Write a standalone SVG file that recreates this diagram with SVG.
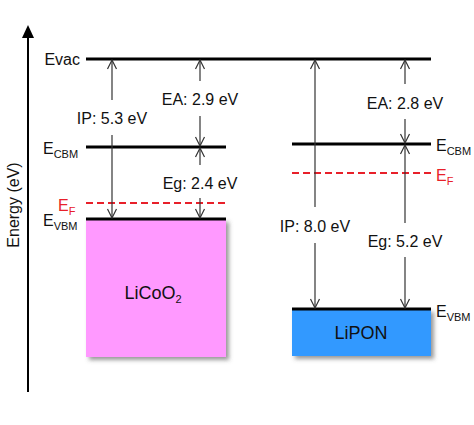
<svg xmlns="http://www.w3.org/2000/svg" width="474" height="425" viewBox="0 0 474 425">
<style>
text{font-family:"Liberation Sans",Arial,sans-serif;fill:#111}
.lbl{font-size:16px}
.big{font-size:18px}
.sub{font-size:11px}
.red{fill:#e8202a}
.lvl{stroke:#000;stroke-width:3}
.ef{stroke:#e8202a;stroke-width:2.2;stroke-dasharray:7,4}
.ar{stroke:#333;stroke-width:1.2;fill:none}
</style>
<defs>
<marker id="ah" markerUnits="userSpaceOnUse" markerWidth="12" markerHeight="12" refX="0" refY="0" viewBox="-10 -6 12 12" orient="auto-start-reverse">
<path d="M-9,-4.5 L0,0 L-9,4.5" fill="none" stroke="#333" stroke-width="1.2"/>
</marker>
<filter id="sh" x="-10%" y="-10%" width="130%" height="130%">
<feDropShadow dx="3" dy="3" stdDeviation="2" flood-color="#555" flood-opacity="0.6"/>
</filter>
</defs>

<g id="axis">
<line x1="28" y1="36" x2="28" y2="392" stroke="#000" stroke-width="2"/>
<path d="M22,38 L28,25 L34,38 Z" fill="#000"/>
<text class="lbl" transform="translate(19,205) rotate(-90)" text-anchor="middle">Energy (eV)</text>
</g>

<g id="evac">
<line class="lvl" x1="86" y1="59" x2="431" y2="59" stroke-width="2"/>
<text class="lbl" x="80" y="65" text-anchor="end">Evac</text>
</g>

<g id="licoo2">
<rect x="86" y="219" width="140" height="138" fill="#ff99ff" filter="url(#sh)"/>
<text class="big" x="153" y="299" text-anchor="middle">LiCoO<tspan class="sub" font-size="12" dy="4">2</tspan></text>
<line class="lvl" x1="86" y1="147" x2="226" y2="147"/>
<line class="ef" x1="86" y1="203" x2="226" y2="203"/>
<line class="lvl" x1="86" y1="219" x2="226" y2="219"/>
<text class="lbl" x="43" y="154">E<tspan class="sub" dy="4">CBM</tspan></text>
<text class="lbl red" x="58" y="211">E<tspan class="sub red" dy="4">F</tspan></text>
<text class="lbl" x="43" y="226">E<tspan class="sub" dy="4">VBM</tspan></text>
</g>

<g id="lipon">
<rect x="292" y="309" width="139" height="47" fill="#3399ff" filter="url(#sh)"/>
<text class="big" x="361" y="339" text-anchor="middle">LiPON</text>
<line class="lvl" x1="292" y1="144" x2="431" y2="144"/>
<line class="ef" x1="292" y1="173" x2="431" y2="173"/>
<line class="lvl" x1="292" y1="309" x2="431" y2="309" stroke-width="2"/>
<text class="lbl" x="436" y="151">E<tspan class="sub" dy="4">CBM</tspan></text>
<text class="lbl red" x="436" y="181">E<tspan class="sub red" dy="4">F</tspan></text>
<text class="lbl" x="436" y="317">E<tspan class="sub" dy="4">VBM</tspan></text>
</g>

<g id="connectors">
<line class="ar" x1="112" y1="100" x2="112" y2="60" marker-end="url(#ah)"/>
<line class="ar" x1="112" y1="135" x2="112" y2="218" marker-end="url(#ah)"/>
<line class="ar" x1="200" y1="81" x2="200" y2="60" marker-end="url(#ah)"/>
<line class="ar" x1="200" y1="116" x2="200" y2="146" marker-end="url(#ah)"/>
<line class="ar" x1="200" y1="165" x2="200" y2="148" marker-end="url(#ah)"/>
<line class="ar" x1="200" y1="198" x2="200" y2="218" marker-end="url(#ah)"/>
<line class="ar" x1="315" y1="207" x2="315" y2="60" marker-end="url(#ah)"/>
<line class="ar" x1="315" y1="243" x2="315" y2="308" marker-end="url(#ah)"/>
<line class="ar" x1="405" y1="84" x2="405" y2="60" marker-end="url(#ah)"/>
<line class="ar" x1="405" y1="119" x2="405" y2="143" marker-end="url(#ah)"/>
<line class="ar" x1="405" y1="223" x2="405" y2="145" marker-end="url(#ah)"/>
<line class="ar" x1="405" y1="257" x2="405" y2="308" marker-end="url(#ah)"/>
</g>

<g id="labels">
<text class="lbl" x="112" y="124" text-anchor="middle">IP: 5.3 eV</text>
<text class="lbl" x="200" y="105" text-anchor="middle">EA: 2.9 eV</text>
<text class="lbl" x="200" y="189" text-anchor="middle">Eg: 2.4 eV</text>
<text class="lbl" x="315" y="232" text-anchor="middle">IP: 8.0 eV</text>
<text class="lbl" x="405" y="109" text-anchor="middle">EA: 2.8 eV</text>
<text class="lbl" x="405" y="247" text-anchor="middle">Eg: 5.2 eV</text>
</g>
</svg>
